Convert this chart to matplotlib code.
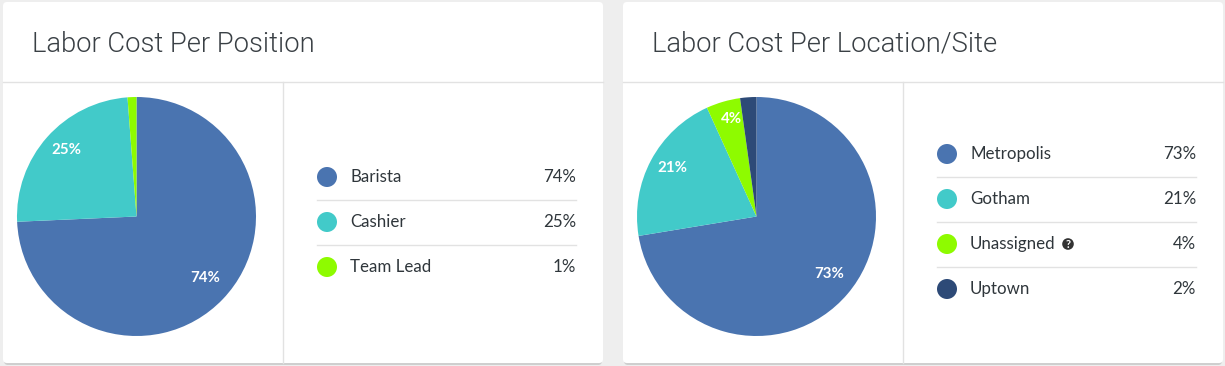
"""Two card panels with labor cost pies and legend tables, laid out in pixel coordinates."""
import numpy as np
import matplotlib
matplotlib.use("Agg")
import matplotlib.pyplot as plt
from matplotlib.patches import FancyBboxPatch, Circle

# ── data ──
position_names = ["Barista", "Cashier", "Team Lead"]
position_values = [74.3, 24.5, 1.2]
position_labels = ["74%", "25%", "1%"]

site_names = ["Metropolis", "Gotham", "Unassigned", "Uptown"]
site_values = [72.4, 20.8, 4.6, 2.2]
site_labels = ["73%", "21%", "4%", "2%"]

BLUE, TEAL, LIME, NAVY = "#4a74b0", "#42cac9", "#8efb00", "#2d4a77"
TEXT = "#2f363b"
LINE = "#e2e2e2"
W, H = 1225, 366

plt.rcParams["font.family"] = ["Lato", "DejaVu Sans"]

fig = plt.figure(figsize=(W / 100, H / 100), dpi=100, facecolor="#eeeeee")
bg = fig.add_axes([0, 0, 1, 1])
bg.set_xlim(0, W)
bg.set_ylim(H, 0)
bg.axis("off")


def draw_card(x0, title, names, values, labels, colors, row_ys, label_radius):
    # shadow + card
    bg.add_patch(FancyBboxPatch((x0 + 4, 4), 598, 361, boxstyle="round,pad=0,rounding_size=4",
                                fc="#cfcfcf", ec="none", zorder=1))
    bg.add_patch(FancyBboxPatch((x0 + 3, 2), 600, 361, boxstyle="round,pad=0,rounding_size=4",
                                fc="white", ec="none", zorder=2))
    bg.plot([x0 + 3, x0 + 603], [82, 82], color=LINE, lw=1, zorder=3)
    bg.plot([x0 + 283, x0 + 283], [82, 363], color=LINE, lw=1, zorder=3)
    bg.text(x0 + 32, 44, title, fontsize=19.7, fontweight=300, color="#3a4045",
            family="Roboto", va="center", ha="left", zorder=4)

    # pie
    cx, cy, r = x0 + 136.5, 216.5, 119.5
    pie_ax = fig.add_axes([(cx - r) / W, 1 - (cy + r) / H, 2 * r / W, 2 * r / H], zorder=5)
    pie_ax.pie(values, colors=colors, startangle=90, counterclock=False, radius=1,
               wedgeprops={"linewidth": 0})
    pie_ax.set_xlim(-1, 1)
    pie_ax.set_ylim(-1, 1)

    # slice labels, only where the slice is big enough
    start = 0
    for val, lab, rad in zip(values, labels, label_radius):
        mid = np.deg2rad((start + val / 2) * 3.6)
        start += val
        if rad is not None:
            pie_ax.text(rad * np.sin(mid) + 0.025, rad * np.cos(mid) + 0.012, lab, color="white",
                        fontsize=10.8, fontweight="bold", ha="center", va="center")

    # legend rows
    for i, (name, lab, col, y) in enumerate(zip(names, labels, colors, row_ys)):
        bg.add_patch(Circle((x0 + 327, y + 1), 10, fc=col, ec="none", zorder=4))
        bg.text(x0 + 350, y + 1, name, fontsize=12.2, color=TEXT, va="center", ha="left", zorder=4)
        bg.text(x0 + 576, y + 1, lab, fontsize=12.2, color=TEXT, va="center", ha="right", zorder=4)
        if name == "Unassigned":
            # little help icon after the name
            bg.add_patch(Circle((x0 + 448, y + 1), 5.8, fc="#333333", ec="none", zorder=4))
            bg.text(x0 + 448, y + 1, "?", fontsize=8, fontweight="bold", color="white",
                    ha="center", va="center", zorder=5)
        if i < len(names) - 1:
            bg.plot([x0 + 317, x0 + 576], [y + 24, y + 24], color=LINE, lw=1, zorder=3)


draw_card(0, "Labor Cost Per Position", position_names, position_values, position_labels,
          [BLUE, TEAL, LIME], [176, 221, 266], [0.76, 0.82, None])
draw_card(620, "Labor Cost Per Location/Site", site_names, site_values, site_labels,
          [BLUE, TEAL, LIME, NAVY], [153, 198, 243, 288], [0.76, 0.83, 0.835, None])

fig.savefig("out.png", dpi=100, facecolor=fig.get_facecolor())
